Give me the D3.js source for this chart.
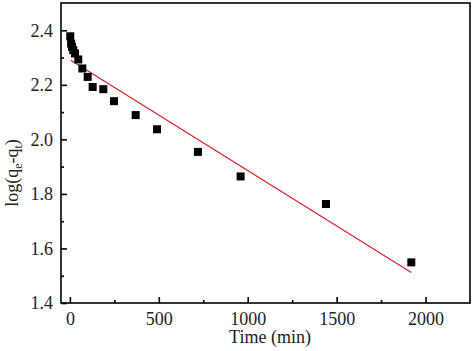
<!DOCTYPE html>
<html>
<head>
<meta charset="utf-8">
<script src="https://cdn.jsdelivr.net/npm/d3@7"></script>
<style>
  body { margin: 0; background: white; }
  text { font-family: "Liberation Serif", "Times New Roman", serif; }
</style>
</head>
<body>
<div id="canvas"></div>
<script>
var w = 474;
var h = 351;

// data
var times = [2, 7, 12, 19, 29, 47, 70, 100, 128, 188, 248, 370, 490, 720, 960, 1440, 1920];
var logValues = [2.378, 2.351, 2.339, 2.327, 2.315, 2.293, 2.260, 2.229, 2.192, 2.184, 2.140, 2.089, 2.037, 1.954, 1.864, 1.763, 1.549];
var fitTimes = [5, 1920];
var fitValues = [2.290, 1.512];
var xTicks = [0, 500, 1000, 1500, 2000];
var yTicks = [1.4, 1.6, 1.8, 2.0, 2.2, 2.4];

var margin = {left: 61, right: 4, top: 3, bottom: 48};

var svg = d3.select("#canvas").append("svg")
	.attr("width", w)
	.attr("height", h)
	.style("background-color", "white");

var xScale = d3.scaleLinear()
	.domain([-50, 2250])
	.range([margin.left, w - margin.right]);

var yScale = d3.scaleLinear()
	.domain([1.4, 2.5])
	.range([h - margin.bottom, margin.top]);

// frame
svg.append("rect")
	.attr("x", margin.left)
	.attr("y", margin.top)
	.attr("width", w - margin.right - margin.left)
	.attr("height", h - margin.bottom - margin.top)
	.attr("fill", "none")
	.attr("stroke", "black")
	.attr("stroke-width", 1.6);

// x axis (ticks inside)
svg.append("g")
	.attr("transform", "translate(0," + (h - margin.bottom) + ")")
	.call(d3.axisBottom(xScale).tickValues(xTicks).tickSize(-6).tickPadding(9).tickFormat(d3.format("d")));
svg.append("g")
	.attr("transform", "translate(0," + (h - margin.bottom) + ")")
	.call(d3.axisBottom(xScale).tickValues([250, 750, 1250, 1750]).tickSize(-3).tickFormat(""));

// y axis (ticks inside)
svg.append("g")
	.attr("transform", "translate(" + margin.left + ",0)")
	.call(d3.axisLeft(yScale).tickValues(yTicks).tickSize(-6).tickPadding(8).tickFormat(d3.format(".1f")));
svg.append("g")
	.attr("transform", "translate(" + margin.left + ",0)")
	.call(d3.axisLeft(yScale).tickValues([1.5, 1.7, 1.9, 2.1, 2.3]).tickSize(-3).tickFormat(""));

svg.selectAll(".domain").remove();
svg.selectAll(".tick line").attr("stroke", "black").attr("stroke-width", 1.6);
svg.selectAll(".tick text")
	.style("font-family", "Liberation Serif")
	.style("font-size", "18px")
	.attr("fill", "#222");

// fit line
var fitData = fitTimes.map(function(t, i) { return [t, fitValues[i]]; });
svg.append("path")
	.datum(fitData)
	.attr("d", d3.line()
		.x(function(d) { return xScale(d[0]); })
		.y(function(d) { return yScale(d[1]); }))
	.attr("fill", "none")
	.attr("stroke", "#d8202a")
	.attr("stroke-width", 1.2);

// points
var pts = times.map(function(t, i) { return {t: t, v: logValues[i]}; });
var sq = 8;
svg.selectAll("rect.pt")
	.data(pts)
	.join("rect")
	.attr("class", "pt")
	.attr("x", function(d) { return xScale(d.t) - sq / 2; })
	.attr("y", function(d) { return yScale(d.v) - sq / 2; })
	.attr("width", sq)
	.attr("height", sq)
	.attr("fill", "black");

// axis titles
svg.append("text")
	.attr("x", 270)
	.attr("y", 343)
	.attr("text-anchor", "middle")
	.style("font-size", "18px")
	.attr("fill", "#222")
	.text("Time (min)");

var yl = svg.append("text")
	.attr("transform", "translate(18," + 173 + ") rotate(-90)")
	.attr("text-anchor", "middle")
	.style("font-size", "18px")
	.attr("fill", "#222");
yl.append("tspan").text("log(q");
yl.append("tspan").attr("dy", 4).style("font-size", "12px").text("e");
yl.append("tspan").attr("dy", -4).text("-q");
yl.append("tspan").attr("dy", 4).style("font-size", "12px").text("t");
yl.append("tspan").attr("dy", -4).text(")");
</script>
</body>
</html>
